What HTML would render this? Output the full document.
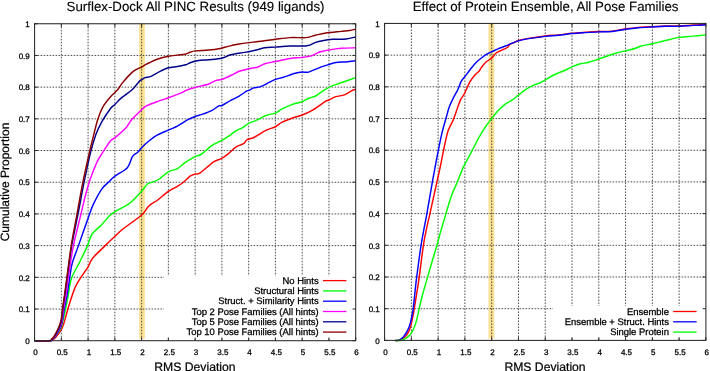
<!DOCTYPE html>
<html><head><meta charset="utf-8"><title>Cumulative Proportion vs RMS Deviation</title>
<style>html,body{margin:0;padding:0;background:#fff}svg{display:block}text{stroke:#000;stroke-width:.28px}.t{stroke-width:.12px}.a{stroke-width:.22px}</style></head>
<body>
<svg width="710" height="371" viewBox="0 0 710 371" font-family="'Liberation Sans', Arial, Helvetica, sans-serif" fill="#000" text-rendering="geometricPrecision">
<rect width="710" height="371" fill="#fff"/>
<rect x="139.11" y="24.05" width="5.70" height="314.75" fill="#fbe191"/>
<line x1="61.33" y1="23.75" x2="61.33" y2="340.70" stroke="#505050" stroke-width="1" stroke-dasharray="1.6 1.4"/>
<line x1="88.09" y1="23.75" x2="88.09" y2="340.70" stroke="#505050" stroke-width="1" stroke-dasharray="1.6 1.4"/>
<line x1="114.85" y1="23.75" x2="114.85" y2="340.70" stroke="#505050" stroke-width="1" stroke-dasharray="1.6 1.4"/>
<line x1="141.61" y1="23.75" x2="141.61" y2="340.70" stroke="#505050" stroke-width="1" stroke-dasharray="1.6 1.4"/>
<line x1="168.37" y1="23.75" x2="168.37" y2="340.70" stroke="#505050" stroke-width="1" stroke-dasharray="1.6 1.4"/>
<line x1="195.13" y1="23.75" x2="195.13" y2="340.70" stroke="#505050" stroke-width="1" stroke-dasharray="1.6 1.4"/>
<line x1="221.90" y1="23.75" x2="221.90" y2="340.70" stroke="#505050" stroke-width="1" stroke-dasharray="1.6 1.4"/>
<line x1="248.66" y1="23.75" x2="248.66" y2="340.70" stroke="#505050" stroke-width="1" stroke-dasharray="1.6 1.4"/>
<line x1="275.42" y1="23.75" x2="275.42" y2="340.70" stroke="#505050" stroke-width="1" stroke-dasharray="1.6 1.4"/>
<line x1="302.18" y1="23.75" x2="302.18" y2="340.70" stroke="#505050" stroke-width="1" stroke-dasharray="1.6 1.4"/>
<line x1="328.94" y1="23.75" x2="328.94" y2="340.70" stroke="#505050" stroke-width="1" stroke-dasharray="1.6 1.4"/>
<line x1="34.57" y1="309.00" x2="355.70" y2="309.00" stroke="#505050" stroke-width="1" stroke-dasharray="1.6 1.4"/>
<line x1="34.57" y1="277.31" x2="355.70" y2="277.31" stroke="#505050" stroke-width="1" stroke-dasharray="1.6 1.4"/>
<line x1="34.57" y1="245.61" x2="355.70" y2="245.61" stroke="#505050" stroke-width="1" stroke-dasharray="1.6 1.4"/>
<line x1="34.57" y1="213.92" x2="355.70" y2="213.92" stroke="#505050" stroke-width="1" stroke-dasharray="1.6 1.4"/>
<line x1="34.57" y1="182.22" x2="355.70" y2="182.22" stroke="#505050" stroke-width="1" stroke-dasharray="1.6 1.4"/>
<line x1="34.57" y1="150.53" x2="355.70" y2="150.53" stroke="#505050" stroke-width="1" stroke-dasharray="1.6 1.4"/>
<line x1="34.57" y1="118.83" x2="355.70" y2="118.83" stroke="#505050" stroke-width="1" stroke-dasharray="1.6 1.4"/>
<line x1="34.57" y1="87.14" x2="355.70" y2="87.14" stroke="#505050" stroke-width="1" stroke-dasharray="1.6 1.4"/>
<line x1="34.57" y1="55.44" x2="355.70" y2="55.44" stroke="#505050" stroke-width="1" stroke-dasharray="1.6 1.4"/>
<path d="M34.57 340.70C37.01 340.70 47.00 340.70 49.82 340.70C52.65 340.60 51.35 340.52 52.23 340.07C53.11 339.61 53.85 339.52 55.31 337.85C56.77 336.17 59.97 331.89 61.33 329.61C62.69 327.32 62.86 326.48 63.79 323.58C64.73 320.69 66.21 314.84 67.16 311.54C68.12 308.24 68.51 306.74 69.73 302.98C70.96 299.23 73.12 292.04 74.82 288.09C76.51 284.13 78.21 281.66 80.33 278.26C82.45 274.86 86.13 270.05 88.09 266.85C90.05 263.66 89.85 261.69 92.59 258.29C95.33 254.90 101.66 249.11 105.22 245.62C108.78 242.12 112.11 239.01 114.85 236.42C117.59 233.84 118.10 232.85 122.35 229.45C126.59 226.05 137.37 218.69 141.40 215.19C145.42 211.69 145.95 209.36 147.50 207.58C149.05 205.81 149.46 205.31 151.09 204.09C152.71 202.88 154.90 202.00 157.67 199.97C160.44 197.95 165.22 193.60 168.37 191.42C171.53 189.24 174.97 187.82 177.37 186.35C179.76 184.87 181.32 183.85 183.36 182.22C185.40 180.60 188.22 177.52 190.10 176.20C191.99 174.88 193.64 174.44 195.13 173.98C196.63 173.53 197.24 174.64 199.42 173.35C201.59 172.06 206.42 167.78 208.73 165.90C211.04 164.03 211.76 162.85 213.87 161.62C215.97 160.40 219.46 159.63 221.90 158.26C224.33 156.89 226.83 154.86 229.07 153.07C231.30 151.27 233.55 148.55 235.86 147.04C238.18 145.54 241.75 144.82 243.52 143.65C245.28 142.49 245.40 140.65 246.89 139.75C248.38 138.86 251.07 138.78 252.83 138.04C254.60 137.31 255.76 136.44 257.92 135.16C260.07 133.88 263.52 131.40 266.32 130.06C269.12 128.71 272.96 127.98 275.42 126.76C277.88 125.54 279.05 123.79 281.68 122.42C284.31 121.05 288.57 119.38 291.85 118.20C295.13 117.02 298.92 116.30 302.18 115.03C305.43 113.76 309.51 111.75 312.19 110.28C314.87 108.81 316.76 107.31 318.93 105.84C321.10 104.37 324.13 102.02 325.73 101.09C327.33 100.15 327.31 100.69 328.94 99.98C330.57 99.27 333.41 97.46 335.90 96.65C338.38 95.83 341.89 95.84 344.46 94.87C347.03 93.91 350.16 91.51 351.95 90.63C353.75 89.74 355.10 89.56 355.70 89.36" fill="none" stroke="#ff0000" stroke-width="1.45" stroke-linejoin="round" stroke-linecap="butt"/>
<path d="M34.57 340.70C37.01 340.70 47.00 340.70 49.82 340.70C52.65 340.55 51.08 340.70 52.23 339.75C53.38 338.63 55.54 335.81 57.00 333.73C58.45 331.65 59.97 330.71 61.33 326.75C62.69 322.80 64.44 313.87 65.51 309.00C66.58 304.14 67.06 301.25 68.02 296.33C68.98 291.41 69.74 283.53 71.50 278.26C73.26 272.99 76.42 268.59 78.99 263.36C81.56 258.14 85.52 250.23 87.56 245.62C89.59 241.00 89.44 237.92 91.73 234.52C94.03 231.12 99.06 227.37 101.90 224.38C104.74 221.39 107.43 217.85 109.50 215.82C111.57 213.79 112.80 213.02 114.85 211.70C116.91 210.38 119.81 209.05 122.35 207.58C124.88 206.11 127.65 205.10 130.69 202.51C133.74 199.92 138.68 194.41 141.40 191.42C144.12 188.42 145.88 185.31 147.71 183.81C149.55 182.31 150.95 182.88 152.85 182.07C154.75 181.26 157.11 180.39 159.60 178.74C162.08 177.09 165.53 173.39 168.37 171.77C171.22 170.14 174.71 170.07 177.37 168.60C180.02 167.13 182.12 164.50 184.97 162.57C187.81 160.65 192.82 157.72 195.13 156.55C197.45 155.39 198.19 155.84 199.42 155.28C200.64 154.73 200.75 154.64 202.79 153.07C204.83 151.49 209.10 147.49 212.15 145.46C215.21 143.43 219.19 141.91 221.90 140.39C224.60 138.87 226.83 137.47 229.07 135.95C231.30 134.43 233.69 132.23 235.86 130.88C238.04 129.53 240.62 128.74 242.66 127.52C244.71 126.30 246.50 124.41 248.66 123.27C250.81 122.14 253.32 121.69 256.15 120.42C258.98 119.15 263.24 116.51 266.32 115.35C269.40 114.18 272.96 114.12 275.42 113.13C277.88 112.14 279.05 110.51 281.68 109.14C284.31 107.77 288.57 105.76 291.85 104.57C295.13 103.39 299.47 102.73 302.18 101.72C304.88 100.71 306.62 99.15 308.76 98.23C310.90 97.32 313.10 97.31 315.56 96.01C318.02 94.72 321.41 91.77 324.12 90.12C326.84 88.47 329.55 86.93 332.53 85.68C335.50 84.43 338.99 83.58 342.69 82.29C346.40 81.00 353.62 78.38 355.70 77.63" fill="none" stroke="#00ff00" stroke-width="1.45" stroke-linejoin="round" stroke-linecap="butt"/>
<path d="M34.57 340.70C37.01 340.70 47.00 340.70 49.82 340.70C52.65 340.55 51.16 340.70 52.23 339.75C53.30 338.73 55.06 336.69 56.51 334.36C57.97 332.03 60.09 329.23 61.33 325.17C62.57 321.11 63.34 313.90 64.27 309.00C65.21 304.11 66.31 299.47 67.16 294.55C68.02 289.63 68.82 283.25 69.63 278.26C70.43 273.27 70.78 268.59 72.20 263.36C73.61 258.14 75.74 253.32 78.46 245.62C81.17 237.91 86.76 221.83 89.16 215.19C91.56 208.54 91.41 208.30 93.44 204.09C95.48 199.89 99.33 192.53 101.90 188.88C104.47 185.23 107.43 183.30 109.50 181.27C111.57 179.25 112.00 178.38 114.85 176.20C117.70 174.02 124.51 170.79 127.32 167.65C130.13 164.50 130.78 158.99 132.41 156.55C134.03 154.12 136.05 153.80 137.49 152.43C138.93 151.06 140.05 149.41 141.40 147.99C142.74 146.57 144.88 144.52 145.90 143.56C146.91 142.59 146.07 143.24 147.71 141.97C149.36 140.70 152.87 137.54 156.17 135.63C159.48 133.73 164.98 131.58 168.37 130.06C171.77 128.53 174.16 127.82 177.37 126.12C180.57 124.43 185.55 121.02 188.39 119.47C191.23 117.92 192.96 117.27 195.13 116.46C197.31 115.65 199.26 115.39 201.99 114.40C204.71 113.41 209.45 111.65 212.15 110.28C214.86 108.91 217.34 106.60 218.90 105.84C220.46 105.08 219.99 106.39 221.90 105.52C223.80 104.66 228.01 101.97 230.78 100.45C233.55 98.93 236.66 97.54 239.24 96.01C241.81 94.49 245.25 91.89 246.89 90.94C248.53 90.00 248.37 90.61 249.46 90.12C250.55 89.63 252.06 88.42 253.69 87.90C255.31 87.38 257.61 87.52 259.63 86.89C261.65 86.26 263.79 85.17 266.32 83.97C268.85 82.77 272.69 80.49 275.42 79.41C278.14 78.32 280.17 78.17 283.34 77.19C286.51 76.21 292.21 74.11 295.22 73.29C298.23 72.47 300.01 72.28 302.18 72.08C304.34 71.89 306.08 72.77 308.76 72.08C311.44 71.40 315.70 69.03 318.93 67.81C322.16 66.58 326.22 65.31 328.94 64.45C331.65 63.58 333.16 62.82 335.90 62.42C338.64 62.01 342.90 62.18 346.07 61.91C349.23 61.64 354.16 60.90 355.70 60.71" fill="none" stroke="#0000ff" stroke-width="1.45" stroke-linejoin="round" stroke-linecap="butt"/>
<path d="M34.57 340.70C36.97 340.70 46.73 340.70 49.56 340.70C52.38 340.50 51.20 340.45 52.23 339.43C53.26 338.42 54.52 336.85 55.98 334.36C57.43 331.88 60.13 327.96 61.33 323.90C62.53 319.84 62.68 313.97 63.47 309.00C64.27 304.04 65.56 297.76 66.31 292.84C67.05 287.92 66.99 285.82 68.13 278.26C69.27 270.70 71.41 255.71 73.43 245.62C75.44 235.52 78.86 222.90 80.71 215.19C82.55 207.48 83.58 202.71 84.93 197.44C86.29 192.16 87.94 186.18 89.16 182.22C90.39 178.27 91.23 176.16 92.59 172.72C93.95 169.27 96.04 163.92 97.67 160.67C99.30 157.43 100.73 155.58 102.76 152.43C104.79 149.29 108.42 143.35 110.36 141.02C112.29 138.69 112.42 139.88 114.85 137.85C117.28 135.82 122.89 131.23 125.56 128.34C128.23 125.45 129.02 122.73 131.55 119.79C134.09 116.84 139.10 112.14 141.40 109.96C143.69 107.78 143.53 107.42 145.90 106.16C148.26 104.89 152.57 103.38 156.17 102.04C159.77 100.69 164.98 98.97 168.37 97.76C171.77 96.54 174.97 95.37 177.37 94.43C179.76 93.49 181.92 92.58 183.36 91.89C184.80 91.20 184.47 90.83 186.36 90.12C188.24 89.41 191.56 88.44 195.13 87.46C198.71 86.47 205.47 85.07 208.73 83.97C211.99 82.88 213.42 81.34 215.53 80.61C217.63 79.88 219.46 80.22 221.90 79.41C224.34 78.59 228.01 76.81 230.78 75.51C233.55 74.21 236.38 72.37 239.24 71.29C242.10 70.21 245.67 69.44 248.66 68.76C251.65 68.07 255.35 67.83 257.92 67.01C260.48 66.20 261.91 64.56 264.71 63.69C267.51 62.81 271.35 62.39 275.42 61.56C279.49 60.74 285.85 59.19 290.14 58.52C294.42 57.84 298.65 57.81 302.18 57.35C305.71 56.88 309.51 56.41 312.19 55.60C314.87 54.79 316.25 53.16 318.93 52.28C321.61 51.39 325.41 50.69 328.94 50.06C332.47 49.42 336.70 48.67 340.98 48.31C345.26 47.96 353.35 47.91 355.70 47.84" fill="none" stroke="#ff00ff" stroke-width="1.45" stroke-linejoin="round" stroke-linecap="butt"/>
<path d="M34.57 340.70C36.92 340.70 46.55 340.70 49.29 340.70C52.03 340.50 50.87 340.14 51.70 339.43C52.53 338.72 53.37 337.99 54.48 336.26C55.59 334.54 57.56 331.09 58.65 328.66C59.75 326.22 60.67 324.19 61.33 321.05C61.99 317.90 62.17 313.52 62.78 309.00C63.38 304.49 64.45 297.76 65.13 292.84C65.82 287.92 66.00 285.82 67.06 278.26C68.11 270.70 69.99 255.71 71.71 245.62C73.44 235.52 75.84 225.33 77.82 215.19C79.79 205.05 82.03 192.27 84.08 182.22C86.12 172.18 88.71 160.09 90.61 152.43C92.51 144.77 94.15 139.28 95.96 134.37C97.77 129.45 99.60 125.80 101.90 121.69C104.20 117.58 108.28 111.43 110.36 108.69C112.43 105.95 113.09 106.30 114.85 104.57C116.62 102.85 118.71 100.20 121.38 97.92C124.05 95.63 129.26 92.27 131.55 90.31C133.85 88.35 134.37 87.23 135.73 85.68C137.08 84.13 139.07 81.54 140.01 80.61C140.95 79.68 140.79 80.33 141.61 79.85C142.44 79.37 143.63 78.19 145.15 77.63C146.66 77.07 148.77 77.33 151.09 76.36C153.40 75.40 156.83 72.98 159.60 71.61C162.36 70.24 165.53 68.62 168.37 67.81C171.22 66.99 174.57 67.02 177.37 66.54C180.17 66.06 183.84 65.40 185.88 64.80C187.91 64.19 188.07 63.42 190.10 62.73C192.13 62.05 195.58 61.00 198.56 60.52C201.54 60.03 205.00 60.07 208.73 59.69C212.46 59.32 218.37 58.95 221.90 58.17C225.42 57.39 227.46 55.70 230.78 54.81C234.10 53.92 239.80 53.09 242.66 52.59C245.52 52.10 246.50 52.11 248.66 51.70C250.81 51.30 253.58 50.68 256.15 50.06C258.72 49.44 261.63 48.31 264.71 47.84C267.80 47.37 271.35 47.39 275.42 47.11C279.49 46.83 285.08 46.31 290.14 46.09C295.19 45.88 302.93 46.34 307.00 45.75C311.06 45.15 313.10 43.17 315.56 42.35C318.02 41.54 319.64 41.17 322.36 40.68C325.07 40.18 328.73 39.55 332.53 39.28C336.32 39.01 342.36 39.34 346.07 38.96C349.77 38.59 354.16 37.26 355.70 36.94" fill="none" stroke="#00008b" stroke-width="1.45" stroke-linejoin="round" stroke-linecap="butt"/>
<path d="M34.57 340.70C36.88 340.70 46.32 340.70 49.02 340.70C51.72 340.50 50.62 340.14 51.43 339.43C52.24 338.72 52.99 338.09 54.11 336.26C55.22 334.44 57.27 330.61 58.39 328.02C59.50 325.44 60.40 323.14 61.06 320.10C61.72 317.06 61.91 313.37 62.51 309.00C63.11 304.64 64.12 297.76 64.81 292.84C65.49 287.92 65.76 285.82 66.79 278.26C67.82 270.70 69.63 255.71 71.23 245.62C72.83 235.52 74.93 225.33 76.80 215.19C78.67 205.05 80.88 192.27 82.90 182.22C84.92 172.18 87.88 159.28 89.43 152.43C90.98 145.59 91.27 144.66 92.59 139.44C93.91 134.21 96.04 124.96 97.67 119.79C99.30 114.61 100.73 110.76 102.76 107.11C104.79 103.46 108.05 99.65 110.36 96.97C112.66 94.28 115.25 92.52 117.15 90.31C119.06 88.10 119.93 85.94 122.24 83.15C124.54 80.36 129.11 75.18 131.55 72.88C133.99 70.57 135.92 69.66 137.49 68.76C139.07 67.85 140.05 67.93 141.40 67.24C142.74 66.55 144.61 65.17 145.90 64.45C147.18 63.73 147.51 63.60 149.43 62.73C151.35 61.87 154.85 60.06 157.88 59.03C160.92 58.00 165.26 56.92 168.37 56.30C171.49 55.68 174.71 55.45 177.37 55.13C180.02 54.80 182.93 54.73 184.97 54.27C187.00 53.82 188.48 52.82 190.10 52.28C191.73 51.73 192.15 51.20 195.13 50.85C198.12 50.49 204.93 50.39 208.73 50.06C212.53 49.73 215.64 49.42 218.90 48.79C222.15 48.16 225.81 46.86 229.07 46.09C232.32 45.33 236.39 44.55 239.24 44.03C242.09 43.52 243.35 43.32 246.89 42.86C250.43 42.41 256.78 41.76 261.34 41.18C265.91 40.61 270.81 39.85 275.42 39.28C280.02 38.71 285.20 37.87 290.14 37.60C295.07 37.33 302.18 37.98 306.25 37.60C310.31 37.22 312.44 35.96 315.56 35.22C318.68 34.49 321.66 33.62 325.73 33.00C329.80 32.39 337.18 31.76 340.98 31.36C344.78 30.95 347.14 30.82 349.49 30.47C351.85 30.11 354.71 29.35 355.70 29.14" fill="none" stroke="#8b0000" stroke-width="1.45" stroke-linejoin="round" stroke-linecap="butt"/>
<rect x="164.00" y="276.00" width="191.70" height="61.60" fill="#fff"/>
<path d="M34.57 340.70v-3.2M34.57 23.75v3.2M61.33 340.70v-3.2M61.33 23.75v3.2M88.09 340.70v-3.2M88.09 23.75v3.2M114.85 340.70v-3.2M114.85 23.75v3.2M141.61 340.70v-3.2M141.61 23.75v3.2M168.37 340.70v-3.2M168.37 23.75v3.2M195.13 340.70v-3.2M195.13 23.75v3.2M221.90 340.70v-3.2M221.90 23.75v3.2M248.66 340.70v-3.2M248.66 23.75v3.2M275.42 340.70v-3.2M275.42 23.75v3.2M302.18 340.70v-3.2M302.18 23.75v3.2M328.94 340.70v-3.2M328.94 23.75v3.2M355.70 340.70v-3.2M355.70 23.75v3.2M34.57 340.70h3.2M355.70 340.70h-3.2M34.57 309.00h3.2M355.70 309.00h-3.2M34.57 277.31h3.2M355.70 277.31h-3.2M34.57 245.61h3.2M355.70 245.61h-3.2M34.57 213.92h3.2M355.70 213.92h-3.2M34.57 182.22h3.2M355.70 182.22h-3.2M34.57 150.53h3.2M355.70 150.53h-3.2M34.57 118.83h3.2M355.70 118.83h-3.2M34.57 87.14h3.2M355.70 87.14h-3.2M34.57 55.44h3.2M355.70 55.44h-3.2M34.57 23.75h3.2M355.70 23.75h-3.2" stroke="#2a2a2a" stroke-width="1" fill="none"/>
<rect x="34.57" y="23.75" width="321.13" height="316.95" fill="none" stroke="#2a2a2a" stroke-width="1.05"/>
<text x="35.47" y="354.9" font-size="8" text-anchor="middle">0</text>
<text x="62.23" y="354.9" font-size="8" text-anchor="middle">0.5</text>
<text x="88.99" y="354.9" font-size="8" text-anchor="middle">1</text>
<text x="115.75" y="354.9" font-size="8" text-anchor="middle">1.5</text>
<text x="142.51" y="354.9" font-size="8" text-anchor="middle">2</text>
<text x="169.27" y="354.9" font-size="8" text-anchor="middle">2.5</text>
<text x="196.03" y="354.9" font-size="8" text-anchor="middle">3</text>
<text x="222.80" y="354.9" font-size="8" text-anchor="middle">3.5</text>
<text x="249.56" y="354.9" font-size="8" text-anchor="middle">4</text>
<text x="276.32" y="354.9" font-size="8" text-anchor="middle">4.5</text>
<text x="303.08" y="354.9" font-size="8" text-anchor="middle">5</text>
<text x="329.84" y="354.9" font-size="8" text-anchor="middle">5.5</text>
<text x="356.60" y="354.9" font-size="8" text-anchor="middle">6</text>
<text x="29.77" y="343.90" font-size="8" text-anchor="end">0</text>
<text x="29.77" y="312.20" font-size="8" text-anchor="end">0.1</text>
<text x="29.77" y="280.51" font-size="8" text-anchor="end">0.2</text>
<text x="29.77" y="248.81" font-size="8" text-anchor="end">0.3</text>
<text x="29.77" y="217.12" font-size="8" text-anchor="end">0.4</text>
<text x="29.77" y="185.42" font-size="8" text-anchor="end">0.5</text>
<text x="29.77" y="153.73" font-size="8" text-anchor="end">0.6</text>
<text x="29.77" y="122.03" font-size="8" text-anchor="end">0.7</text>
<text x="29.77" y="90.34" font-size="8" text-anchor="end">0.8</text>
<text x="29.77" y="58.64" font-size="8" text-anchor="end">0.9</text>
<text x="29.77" y="26.95" font-size="8" text-anchor="end">1</text>
<text x="195.53" y="10.5" class="t" font-size="13.3" text-anchor="middle">Surflex-Dock All PINC Results (949 ligands)</text>
<text x="194.94" y="370.8" class="a" font-size="12.2" text-anchor="middle">RMS Deviation</text>
<text transform="translate(8.6 182) rotate(-90)" class="a" font-size="12" text-anchor="middle">Cumulative Proportion</text>
<text x="318.70" y="283.70" font-size="9.45" text-anchor="end">No Hints</text>
<line x1="323.00" y1="280.60" x2="346.40" y2="280.60" stroke="#ff0000" stroke-width="1.3"/>
<text x="318.70" y="294.00" font-size="9.45" text-anchor="end">Structural Hints</text>
<line x1="323.00" y1="290.90" x2="346.40" y2="290.90" stroke="#00ff00" stroke-width="1.3"/>
<text x="318.70" y="304.30" font-size="9.45" text-anchor="end">Struct. + Similarity Hints</text>
<line x1="323.00" y1="301.20" x2="346.40" y2="301.20" stroke="#0000ff" stroke-width="1.3"/>
<text x="318.70" y="314.60" font-size="9.45" text-anchor="end">Top 2 Pose Families (All hints)</text>
<line x1="323.00" y1="311.50" x2="346.40" y2="311.50" stroke="#ff00ff" stroke-width="1.3"/>
<text x="318.70" y="324.90" font-size="9.45" text-anchor="end">Top 5 Pose Families (All hints)</text>
<line x1="323.00" y1="321.80" x2="346.40" y2="321.80" stroke="#00008b" stroke-width="1.3"/>
<text x="318.70" y="335.20" font-size="9.45" text-anchor="end">Top 10 Pose Families (All hints)</text>
<line x1="323.00" y1="332.10" x2="346.40" y2="332.10" stroke="#8b0000" stroke-width="1.3"/>
<rect x="488.48" y="23.75" width="5.80" height="314.75" fill="#fbe191"/>
<line x1="411.35" y1="23.45" x2="411.35" y2="340.40" stroke="#505050" stroke-width="1" stroke-dasharray="1.6 1.4"/>
<line x1="438.12" y1="23.45" x2="438.12" y2="340.40" stroke="#505050" stroke-width="1" stroke-dasharray="1.6 1.4"/>
<line x1="464.90" y1="23.45" x2="464.90" y2="340.40" stroke="#505050" stroke-width="1" stroke-dasharray="1.6 1.4"/>
<line x1="491.68" y1="23.45" x2="491.68" y2="340.40" stroke="#505050" stroke-width="1" stroke-dasharray="1.6 1.4"/>
<line x1="518.46" y1="23.45" x2="518.46" y2="340.40" stroke="#505050" stroke-width="1" stroke-dasharray="1.6 1.4"/>
<line x1="545.24" y1="23.45" x2="545.24" y2="340.40" stroke="#505050" stroke-width="1" stroke-dasharray="1.6 1.4"/>
<line x1="572.01" y1="23.45" x2="572.01" y2="340.40" stroke="#505050" stroke-width="1" stroke-dasharray="1.6 1.4"/>
<line x1="598.79" y1="23.45" x2="598.79" y2="340.40" stroke="#505050" stroke-width="1" stroke-dasharray="1.6 1.4"/>
<line x1="625.57" y1="23.45" x2="625.57" y2="340.40" stroke="#505050" stroke-width="1" stroke-dasharray="1.6 1.4"/>
<line x1="652.35" y1="23.45" x2="652.35" y2="340.40" stroke="#505050" stroke-width="1" stroke-dasharray="1.6 1.4"/>
<line x1="679.12" y1="23.45" x2="679.12" y2="340.40" stroke="#505050" stroke-width="1" stroke-dasharray="1.6 1.4"/>
<line x1="384.57" y1="308.70" x2="705.90" y2="308.70" stroke="#505050" stroke-width="1" stroke-dasharray="1.6 1.4"/>
<line x1="384.57" y1="277.01" x2="705.90" y2="277.01" stroke="#505050" stroke-width="1" stroke-dasharray="1.6 1.4"/>
<line x1="384.57" y1="245.31" x2="705.90" y2="245.31" stroke="#505050" stroke-width="1" stroke-dasharray="1.6 1.4"/>
<line x1="384.57" y1="213.62" x2="705.90" y2="213.62" stroke="#505050" stroke-width="1" stroke-dasharray="1.6 1.4"/>
<line x1="384.57" y1="181.92" x2="705.90" y2="181.92" stroke="#505050" stroke-width="1" stroke-dasharray="1.6 1.4"/>
<line x1="384.57" y1="150.23" x2="705.90" y2="150.23" stroke="#505050" stroke-width="1" stroke-dasharray="1.6 1.4"/>
<line x1="384.57" y1="118.53" x2="705.90" y2="118.53" stroke="#505050" stroke-width="1" stroke-dasharray="1.6 1.4"/>
<line x1="384.57" y1="86.84" x2="705.90" y2="86.84" stroke="#505050" stroke-width="1" stroke-dasharray="1.6 1.4"/>
<line x1="384.57" y1="55.14" x2="705.90" y2="55.14" stroke="#505050" stroke-width="1" stroke-dasharray="1.6 1.4"/>
<path d="M395.28 340.40C395.80 340.40 397.04 340.40 398.49 340.40C399.95 339.94 402.76 338.95 404.39 337.55C406.01 336.15 407.58 333.82 408.67 331.65C409.76 329.49 410.46 326.73 411.19 324.01C411.92 321.30 412.73 317.11 413.22 314.66C413.71 312.21 413.75 311.69 414.24 308.70C414.73 305.72 415.49 300.95 416.27 296.03C417.05 291.11 417.97 286.07 419.11 277.96C420.25 269.85 422.22 253.12 423.40 245.31C424.57 237.51 425.45 234.02 426.45 229.15C427.45 224.28 427.98 222.44 429.66 214.89C431.34 207.33 435.29 189.40 436.95 181.92C438.60 174.45 439.00 172.94 440.00 168.17C441.00 163.40 442.26 156.78 443.21 152.13C444.16 147.49 445.10 142.72 445.94 139.14C446.78 135.56 447.38 132.62 448.46 129.76C449.54 126.89 451.47 124.12 452.69 121.26C453.92 118.40 454.89 115.26 456.12 111.88C457.34 108.50 459.13 102.86 460.35 100.15C461.57 97.44 462.80 96.55 463.72 94.92C464.65 93.30 465.17 92.06 466.13 90.01C467.09 87.96 468.39 84.42 469.72 82.09C471.06 79.75 472.97 77.20 474.49 75.43C476.01 73.65 478.15 72.21 479.20 70.99C480.26 69.78 480.02 69.23 481.08 67.82C482.13 66.42 484.09 63.79 485.79 62.21C487.49 60.64 489.97 59.51 491.68 58.00C493.39 56.49 494.53 54.19 496.50 52.77C498.47 51.35 502.20 50.01 504.00 49.12C505.80 48.24 506.83 47.98 507.75 47.22C508.66 46.46 508.70 45.13 509.73 44.37C510.76 43.61 512.78 43.08 514.17 42.47C515.57 41.86 516.15 41.22 518.46 40.57C520.76 39.91 524.29 39.07 528.58 38.35C532.86 37.62 540.43 36.59 545.24 36.03C550.04 35.48 554.34 35.30 558.62 34.86C562.91 34.42 567.78 33.68 572.01 33.28C576.25 32.87 580.80 32.60 585.08 32.32C589.36 32.05 594.45 31.72 598.79 31.53C603.13 31.34 607.89 31.55 612.18 31.12C616.46 30.69 621.33 29.44 625.57 28.84C629.81 28.23 634.40 27.70 638.69 27.35C642.97 26.99 648.10 26.83 652.35 26.62C656.59 26.41 660.91 26.11 665.20 26.02C669.48 25.92 674.62 26.17 679.12 26.02C683.62 25.87 689.03 25.30 693.31 25.07C697.60 24.83 703.89 24.61 705.90 24.53" fill="none" stroke="#ff0000" stroke-width="1.45" stroke-linejoin="round" stroke-linecap="butt"/>
<path d="M395.28 340.40C395.80 340.40 397.17 340.40 398.49 340.40C399.82 339.82 402.09 338.43 403.58 336.76C405.07 335.08 406.73 332.12 407.81 329.94C408.89 327.77 409.57 325.88 410.33 323.16C411.09 320.44 412.09 315.26 412.55 312.95C413.02 310.64 412.90 311.41 413.22 308.70C413.54 306.00 414.02 300.95 414.56 296.03C415.10 291.11 415.56 286.07 416.60 277.96C417.63 269.85 419.87 253.12 421.04 245.31C422.21 237.51 423.03 234.02 423.93 229.15C424.83 224.28 425.31 222.44 426.66 214.89C428.02 207.33 431.08 189.40 432.39 181.92C433.71 174.45 434.02 172.94 434.91 168.17C435.80 163.40 436.88 157.59 437.96 152.13C439.05 146.68 440.44 139.44 441.71 134.07C442.99 128.69 444.73 122.90 445.94 118.53C447.16 114.17 448.10 110.18 449.32 106.81C450.53 103.44 452.21 100.15 453.55 97.46C454.89 94.77 456.43 92.62 457.67 90.01C458.92 87.40 460.13 83.32 461.31 81.13C462.50 78.95 463.56 78.36 465.06 76.38C466.57 74.40 468.93 71.04 470.74 68.77C472.55 66.51 474.56 64.02 476.36 62.21C478.17 60.41 480.23 58.85 482.04 57.49C483.85 56.13 486.12 54.63 487.66 53.72C489.21 52.81 489.96 52.63 491.68 51.82C493.40 51.00 496.14 49.58 498.43 48.62C500.72 47.65 503.87 46.63 505.98 45.79C508.09 44.96 509.61 44.20 511.60 43.42C513.60 42.63 515.74 41.64 518.46 40.88C521.17 40.12 524.29 39.39 528.58 38.66C532.86 37.94 540.43 36.91 545.24 36.35C550.04 35.79 554.34 35.62 558.62 35.18C562.91 34.74 567.78 34.00 572.01 33.59C576.25 33.19 580.80 32.92 585.08 32.64C589.36 32.36 594.45 32.04 598.79 31.85C603.13 31.66 607.89 31.87 612.18 31.44C616.46 31.01 621.33 29.76 625.57 29.16C629.81 28.55 634.40 28.02 638.69 27.67C642.97 27.31 648.10 27.15 652.35 26.94C656.59 26.72 660.91 26.43 665.20 26.33C669.48 26.24 674.62 26.49 679.12 26.33C683.62 26.18 689.03 25.62 693.31 25.38C697.60 25.15 703.89 24.93 705.90 24.84" fill="none" stroke="#0000ff" stroke-width="1.45" stroke-linejoin="round" stroke-linecap="butt"/>
<path d="M395.28 340.40C396.20 340.40 399.14 340.40 401.01 340.40C402.88 339.94 405.33 338.68 406.96 337.55C408.58 336.42 409.97 335.09 411.19 333.33C412.40 331.57 413.61 328.99 414.56 326.55C415.51 324.10 416.39 320.91 417.13 318.06C417.87 315.20 418.35 312.23 419.17 308.70C419.98 305.18 420.92 300.95 422.22 296.03C423.52 291.11 425.68 283.64 427.31 277.96C428.93 272.28 430.85 265.75 432.39 260.53C433.94 255.31 435.59 250.06 436.95 245.31C438.30 240.57 439.47 235.76 440.86 230.89C442.24 226.03 444.00 220.29 445.62 214.89C447.24 209.49 449.11 202.41 450.98 197.14C452.85 191.86 455.26 186.84 457.30 181.92C459.34 177.01 461.48 171.16 463.72 166.39C465.97 161.63 468.89 156.77 471.33 152.13C473.77 147.49 476.67 141.50 478.99 137.39C481.30 133.29 483.76 129.48 485.79 126.46C487.82 123.44 489.66 121.12 491.68 118.53C493.70 115.95 496.14 112.68 498.43 110.29C500.72 107.91 503.87 105.21 505.98 103.64C508.09 102.07 509.61 101.84 511.60 100.47C513.60 99.10 516.16 96.86 518.46 95.08C520.75 93.31 523.44 91.00 525.96 89.38C528.47 87.75 531.97 85.99 534.20 84.94C536.43 83.89 538.11 83.63 539.88 82.81C541.64 82.00 542.84 81.20 545.24 79.87C547.63 78.53 551.52 76.10 554.87 74.48C558.23 72.86 563.49 70.94 566.23 69.72C568.97 68.51 569.89 67.78 572.01 66.87C574.14 65.96 576.82 64.77 579.51 64.02C582.20 63.27 585.74 63.02 588.83 62.21C591.91 61.40 594.73 60.31 598.79 58.95C602.85 57.59 609.93 55.01 614.21 53.72C618.50 52.43 622.25 51.70 625.57 50.87C628.88 50.03 632.54 49.22 634.94 48.49C637.34 47.75 637.78 47.03 640.56 46.27C643.35 45.51 648.40 44.65 652.35 43.73C656.29 42.82 660.91 41.58 665.20 40.57C669.48 39.55 674.62 38.11 679.12 37.40C683.62 36.69 689.03 36.53 693.31 36.13C697.60 35.72 703.89 35.06 705.90 34.86" fill="none" stroke="#00ff00" stroke-width="1.45" stroke-linejoin="round" stroke-linecap="butt"/>
<rect x="553.00" y="306.00" width="152.90" height="31.60" fill="#fff"/>
<path d="M384.57 340.40v-3.2M384.57 23.45v3.2M411.35 340.40v-3.2M411.35 23.45v3.2M438.12 340.40v-3.2M438.12 23.45v3.2M464.90 340.40v-3.2M464.90 23.45v3.2M491.68 340.40v-3.2M491.68 23.45v3.2M518.46 340.40v-3.2M518.46 23.45v3.2M545.24 340.40v-3.2M545.24 23.45v3.2M572.01 340.40v-3.2M572.01 23.45v3.2M598.79 340.40v-3.2M598.79 23.45v3.2M625.57 340.40v-3.2M625.57 23.45v3.2M652.35 340.40v-3.2M652.35 23.45v3.2M679.12 340.40v-3.2M679.12 23.45v3.2M705.90 340.40v-3.2M705.90 23.45v3.2M384.57 340.40h3.2M705.90 340.40h-3.2M384.57 308.70h3.2M705.90 308.70h-3.2M384.57 277.01h3.2M705.90 277.01h-3.2M384.57 245.31h3.2M705.90 245.31h-3.2M384.57 213.62h3.2M705.90 213.62h-3.2M384.57 181.92h3.2M705.90 181.92h-3.2M384.57 150.23h3.2M705.90 150.23h-3.2M384.57 118.53h3.2M705.90 118.53h-3.2M384.57 86.84h3.2M705.90 86.84h-3.2M384.57 55.14h3.2M705.90 55.14h-3.2M384.57 23.45h3.2M705.90 23.45h-3.2" stroke="#2a2a2a" stroke-width="1" fill="none"/>
<rect x="384.57" y="23.45" width="321.33" height="316.95" fill="none" stroke="#2a2a2a" stroke-width="1.05"/>
<text x="385.47" y="354.9" font-size="8" text-anchor="middle">0</text>
<text x="412.25" y="354.9" font-size="8" text-anchor="middle">0.5</text>
<text x="439.02" y="354.9" font-size="8" text-anchor="middle">1</text>
<text x="465.80" y="354.9" font-size="8" text-anchor="middle">1.5</text>
<text x="492.58" y="354.9" font-size="8" text-anchor="middle">2</text>
<text x="519.36" y="354.9" font-size="8" text-anchor="middle">2.5</text>
<text x="546.13" y="354.9" font-size="8" text-anchor="middle">3</text>
<text x="572.91" y="354.9" font-size="8" text-anchor="middle">3.5</text>
<text x="599.69" y="354.9" font-size="8" text-anchor="middle">4</text>
<text x="626.47" y="354.9" font-size="8" text-anchor="middle">4.5</text>
<text x="653.25" y="354.9" font-size="8" text-anchor="middle">5</text>
<text x="680.02" y="354.9" font-size="8" text-anchor="middle">5.5</text>
<text x="706.80" y="354.9" font-size="8" text-anchor="middle">6</text>
<text x="379.77" y="343.60" font-size="8" text-anchor="end">0</text>
<text x="379.77" y="311.90" font-size="8" text-anchor="end">0.1</text>
<text x="379.77" y="280.21" font-size="8" text-anchor="end">0.2</text>
<text x="379.77" y="248.51" font-size="8" text-anchor="end">0.3</text>
<text x="379.77" y="216.82" font-size="8" text-anchor="end">0.4</text>
<text x="379.77" y="185.12" font-size="8" text-anchor="end">0.5</text>
<text x="379.77" y="153.43" font-size="8" text-anchor="end">0.6</text>
<text x="379.77" y="121.73" font-size="8" text-anchor="end">0.7</text>
<text x="379.77" y="90.04" font-size="8" text-anchor="end">0.8</text>
<text x="379.77" y="58.34" font-size="8" text-anchor="end">0.9</text>
<text x="379.77" y="26.65" font-size="8" text-anchor="end">1</text>
<text x="545.63" y="10.5" class="t" font-size="13.3" text-anchor="middle">Effect of Protein Ensemble, All Pose Families</text>
<text x="545.03" y="370.8" class="a" font-size="12.2" text-anchor="middle">RMS Deviation</text>
<text x="668.90" y="314.60" font-size="9.45" text-anchor="end">Ensemble</text>
<line x1="673.20" y1="311.50" x2="696.60" y2="311.50" stroke="#ff0000" stroke-width="1.3"/>
<text x="668.90" y="324.90" font-size="9.45" text-anchor="end">Ensemble + Struct. Hints</text>
<line x1="673.20" y1="321.80" x2="696.60" y2="321.80" stroke="#0000ff" stroke-width="1.3"/>
<text x="668.90" y="335.20" font-size="9.45" text-anchor="end">Single Protein</text>
<line x1="673.20" y1="332.10" x2="696.60" y2="332.10" stroke="#00ff00" stroke-width="1.3"/>
</svg>
</body></html>
